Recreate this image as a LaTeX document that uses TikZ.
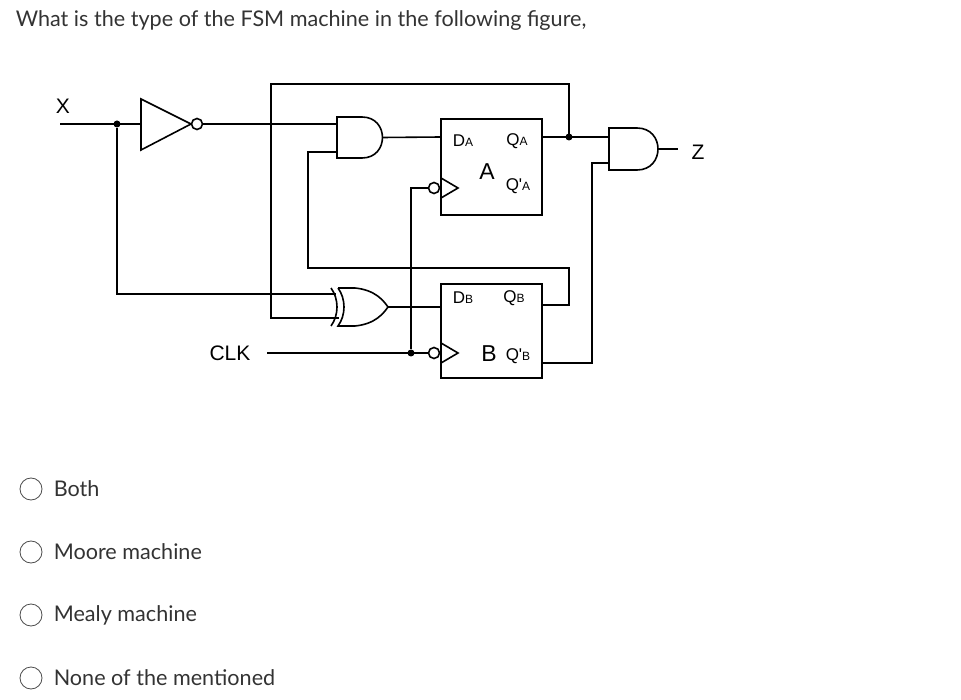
\documentclass[tikz,border=0pt]{standalone}
\usepackage{fontspec}
\setmainfont{Lato}
\newfontfamily\arial{Liberation Sans}
\begin{document}
\begin{tikzpicture}[x=1pt,y=-1pt,line width=1.6pt,
  w/.style={line width=1.6pt},
  lbl/.style={font=\arial\fontsize{21}{21}\selectfont,inner sep=0},
  sub/.style={font=\arial\fontsize{17}{17}\selectfont,inner sep=0},
  opt/.style={font=\fontsize{21.6}{21.6}\selectfont,anchor=west,inner sep=0,text=black!80},
  rad/.style={draw=black!70,line width=0.8pt,circle,minimum size=22pt,inner sep=0},
  dot/.style={circle,fill,inner sep=0,minimum size=7pt}]
\useasboundingbox (0,0) rectangle (961,700);
\node[opt] (q) at (15,21) {What is the type of the FSM machine in the following figure,};
\foreach \y/\t/\n in {489/Both/o1,552/Moore machine/o2,615/Mealy machine/o3,678/None of the mentioned/o4}{
  \node[rad] (\n c) at (31,\y) {};
  \node[opt] (\n) at (53,\y) {\t};
}
\node[lbl] (X) at (63,106) {X};
\node[lbl] (clk) at (230,353) {CLK};
\node[lbl] (Z) at (698,152) {Z};
\node[draw,w,minimum width=101pt,minimum height=96pt,inner sep=0] (FA) at (491.5,167) {};
\node[draw,w,minimum width=101pt,minimum height=94pt,inner sep=0] (FB) at (491.5,331) {};
\node[sub] (da) at (463,141) {D\fontsize{12}{12}\selectfont A};
\node[sub] (qa) at (517,141) {Q\fontsize{12}{12}\selectfont A};
\node[lbl,font=\arial\fontsize{23}{23}\selectfont] (A) at (487,172) {A};
\node[sub] (qna) at (518,186) {Q'\fontsize{12}{12}\selectfont A};
\node[sub] (db) at (463,298) {D\fontsize{12}{12}\selectfont B};
\node[sub] (qb) at (514,298) {Q\fontsize{12}{12}\selectfont B};
\node[lbl,font=\arial\fontsize{23}{23}\selectfont] (B) at (489,354) {B};
\node[sub] (qnb) at (518,356) {Q'\fontsize{12}{12}\selectfont B};
\draw (441,178) -- (458,188) -- (441,198);
\draw (441,343) -- (458,353) -- (441,363);
\node[draw,circle,w,fill=white,minimum size=11pt,inner sep=0] (ba) at (434,188) {};
\node[draw,circle,w,fill=white,minimum size=11pt,inner sep=0] (bb) at (434,353) {};
\draw (141,99) -- (191,124) -- (141,150) -- cycle;
\node[draw,circle,w,fill=white,minimum size=11pt,inner sep=0] (inv) at (197,124) {};
% AND1
\draw (337,117) -- (362,117) .. controls (389.3,117) and (389.3,158) .. (362,158) -- (337,158) -- cycle;
\coordinate (and1) at (382.5,137.5);
% AND2
\draw (609,128) -- (637,128) .. controls (665,128) and (665,170) .. (637,170) -- (609,170) -- cycle;
\coordinate (and2) at (658,149);
% XOR
\draw (338,288) -- (355,288) .. controls (375,290) and (383,300) .. (388,307)
      .. controls (383,314) and (375,324) .. (355,326) -- (338,326)
      .. controls (346,315) and (346,299) .. (338,288);
\draw (331,288) .. controls (339,299) and (339,315) .. (331,326);
\coordinate (xor) at (388,307);
\draw (60,124) -- (141,124);
\node[dot] (d1) at (117,124) {};
\draw (inv.east) -- (337,124);
\draw (d1) |- (336,294);
\draw (339,318) -| (271,84) -| (569,137);
\draw (and1) -- (441,137);
\draw (542,137) -- (609,137);
\node[dot] (d2) at (569,137) {};
\draw (337,152) -| (308,268) -| (569,305) -- (542,305);
\draw (xor) -- (441,307);
\draw (267,353) -- (bb.west);
\node[dot] (d3) at (411,353) {};
\draw (d3) |- (ba.west);
\draw (542,363) -| (592,163) -- (609,163);
\draw (and2) -- (678,149);
\end{tikzpicture}
\end{document}
